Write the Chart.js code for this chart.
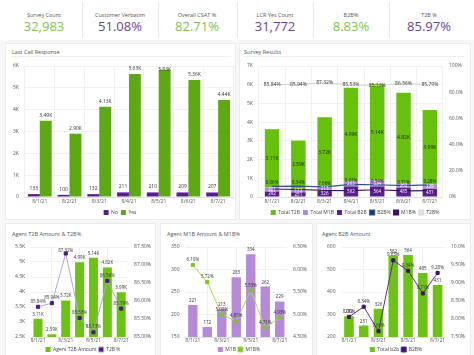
<!DOCTYPE html>
<html><head><meta charset="utf-8">
<script src="https://cdn.jsdelivr.net/npm/chart.js@4/dist/chart.umd.min.js"></script>
<style>
html,body{margin:0;padding:0;background:#fff;font-family:"Open Sans",sans-serif;}
#wrap{position:relative;width:474px;height:355px;overflow:hidden;background:#f7f7f7}
.kpi{position:absolute;top:0;height:40px;text-align:center;background:#fff}
.kpi .t{font-size:5.5px;color:#555;margin-top:12px;line-height:7px}
.kpi .v{font-size:13px;line-height:15px}
.div{position:absolute;top:2px;width:1px;height:36px;background:#e8e8e8}
.panel{position:absolute;background:#fff;border:1px solid #ebebeb;box-sizing:border-box}
.ttl{position:absolute;font-size:5.5px;color:#555;white-space:nowrap}
.hr{position:absolute;height:1px;background:#eeeeee}
canvas{position:absolute}
</style></head>
<body><div id="wrap">
<div class="kpi" style="left:0;width:474px"></div>
<div id="kpis"></div>
<div class="panel" style="left:5px;top:43px;width:231px;height:177px"></div>
<div class="ttl" style="left:12px;top:48px">Last Call Response</div>
<div class="hr" style="left:11px;top:56px;width:220px"></div>
<div class="panel" style="left:239px;top:43px;width:232px;height:177px"></div>
<div class="ttl" style="left:244px;top:48px">Survey Results</div>
<div class="hr" style="left:243px;top:56px;width:222px"></div>
<div class="panel" style="left:5px;top:223px;width:151px;height:134px"></div>
<div class="ttl" style="left:12px;top:230px">Agent T2B Amount &amp; T2B%</div>
<div class="panel" style="left:160px;top:223px;width:153px;height:134px"></div>
<div class="ttl" style="left:167px;top:230px">Agent M1B Amount &amp; M1B%</div>
<div class="panel" style="left:316px;top:223px;width:155px;height:134px"></div>
<div class="ttl" style="left:322px;top:230px">Agent B2B Amount</div>
<canvas id="c1" width="230" height="168" style="left:5px;top:57px"></canvas>
<canvas id="c2" width="232" height="168" style="left:239px;top:57px"></canvas>
<canvas id="c3" width="152" height="125" style="left:5px;top:237px"></canvas>
<canvas id="c4" width="152" height="125" style="left:161px;top:237px"></canvas>
<canvas id="c5" width="154" height="125" style="left:317px;top:237px"></canvas>
</div>
<script>
// ---------- data ----------
const categories = ['8/1/21','8/2/21','8/3/21','8/4/21','8/5/21','8/6/21','8/7/21'];
const kpiTitles = ['Survey Count','Customer Verbatim','Overall CSAT %','LCR Yes Count','B2B%','T2B %'];
const kpiValues = ['32,983','51.08%','82.71%','31,772','8.83%','85.97%'];
const lcrNo = [133,100,132,211,210,209,207];
const lcrYes = [3490,2900,4130,5630,5830,5360,4440];
const totalT2B = [3110,2590,3720,4990,5140,4820,3990];
const totalM1B = [221,172,213,283,334,262,229];
const totalB2B = [292,251,326,562,564,485,431];
const t2bPct = [85.84,85.94,87.32,85.53,85.13,86.56,85.79];
const m1bPct = [6.10,5.72,5.00,4.85,5.53,4.71,4.93];
const b2bPct = [8.06,8.34,7.66,9.63,9.34,8.71,9.28];
const lcrTicks = ['0','1K','2K','3K','4K','5K','6K'];
const surveyTicks = ['0','1K','2K','3K','4K','5K','6K','7K'];
const surveyPctTicks = ['0%','20.0%','40.0%','60.0%','80.0%','100%'];
const t2bTicks = ['2.5K','3K','3.5K','4K','4.5K','5K','5.5K'];
const t2bPctTicks = ['85.00%','85.50%','86.00%','86.50%','87.00%','87.50%'];
const m1bTicks = ['150','200','250','300','350'];
const m1bPctTicks = ['4.50%','5.00%','5.50%','6.00%','6.50%'];
const b2bTicks = ['200','300','400','500','600'];
const b2bPctTicks = ['7.50%','8.00%','8.50%','9.00%','9.50%','10.0%'];

// ---------- KPIs ----------
const kpiColors = ['#80c447','#6b3f94','#80c447','#6b3f94','#80c447','#6b3f94'];
const kpiCenters = [44,120,197,275,351,429];
const kc = document.getElementById('kpis');
kpiTitles.forEach((t,i)=>{
  const d=document.createElement('div'); d.className='kpi';
  d.style.left=(kpiCenters[i]-38)+'px'; d.style.width='76px'; d.style.background='transparent';
  d.innerHTML='<div class="t">'+t+'</div><div class="v" style="color:'+kpiColors[i]+'">'+kpiValues[i]+'</div>';
  kc.appendChild(d);
});
[82,158,237,313,389].forEach(x=>{const d=document.createElement('div');d.className='div';d.style.left=x+'px';kc.appendChild(d);});

// ---------- helpers ----------
const F = '"Open Sans", sans-serif';
const fmtK = v => (v/1000).toFixed(2)+'K';
const fmtN = v => String(v);
const fmtP = v => v.toFixed(2)+'%';
const labelPlugin = {
  id:'lbls',
  afterDatasetsDraw(chart){
    const ctx=chart.ctx, area=chart.chartArea;
    chart.data.datasets.forEach((ds,i)=>{
      const L=ds.lbl; if(!L) return;
      const meta=chart.getDatasetMeta(i);
      ctx.save();
      const size=L.size||5;
      ctx.font=size+'px '+F; ctx.textAlign='center';
      meta.data.forEach((el,j)=>{
        const t=L.fmt(ds.data[j]);
        let y;
        if(L.pos==='center'){ ctx.textBaseline='middle'; y=(el.y+el.base)/2; }
        else if(L.pos==='on'){ ctx.textBaseline='middle'; y=el.y; }
        else { ctx.textBaseline='bottom'; y=el.y-(L.off||3); if(y-size<area.top) y=area.top+size+1; }
        if(L.bg){ const w=ctx.measureText(t).width+3; ctx.fillStyle=L.bg; ctx.fillRect(el.x-w/2,y-size/2-1,w,size+2); }
        ctx.fillStyle=L.color||'#333';
        ctx.fillText(t,el.x,y+(L.dy||0));
      });
      ctx.restore();
    });
  }
};
function tickFont(){return {size:5,family:F};}
function legendOpts(order,pad){
  return {position:'bottom',labels:{boxWidth:5,boxHeight:5,font:{size:5,family:F},color:'#444',padding:pad,
    sort: order? (a,b)=>order.indexOf(a.datasetIndex)-order.indexOf(b.datasetIndex):undefined}};
}
const gridC='#f0f0f0';
function xAxis(stacked,pad){return {stacked:!!stacked,grid:{color:gridC,drawTicks:false},border:{color:'#e0e0e0'},ticks:{font:tickFont(),color:'#555',padding:pad,maxRotation:0}};}
function yAxis(min,max,step,labels,pos,stacked){
  return {position:pos||'left',stacked:!!stacked,min:min,max:max,
    grid:{display:pos!=='right',color:gridC,drawTicks:false},border:{display:false},
    ticks:{stepSize:step,font:tickFont(),color:'#555',padding:6,callback:(v,i)=>labels[i]}};
}

// ---------- chart 1: Last Call Response ----------
new Chart(document.getElementById('c1'),{
  type:'bar',
  data:{labels:categories,datasets:[
    {label:'No',data:lcrNo,backgroundColor:'#5a1e8c',categoryPercentage:0.8,barPercentage:1,lbl:{fmt:fmtN,color:'#333'}},
    {label:'Yes',data:lcrYes,backgroundColor:'#5da913',categoryPercentage:0.8,barPercentage:1,lbl:{fmt:fmtK,color:'#333'}}
  ]},
  options:{responsive:false,animation:false,devicePixelRatio:1,
    layout:{padding:{left:2,right:2,top:6,bottom:0}},
    plugins:{legend:legendOpts(null,3),tooltip:{enabled:false}},
    scales:{x:xAxis(false,2),y:yAxis(0,6000,1000,lcrTicks)}},
  plugins:[labelPlugin]
});

// ---------- chart 2: Survey Results ----------
new Chart(document.getElementById('c2'),{
  type:'bar',
  data:{labels:categories,datasets:[
    {label:'Total B2B',data:totalB2B,backgroundColor:'#5b1e8f',stack:'s',barPercentage:0.55,categoryPercentage:1,order:3,lbl:{fmt:fmtN,pos:'center',color:'#fff',size:4.5}},
    {label:'Total M1B',data:totalM1B,backgroundColor:'#b48ad8',stack:'s',barPercentage:0.55,categoryPercentage:1,order:3,lbl:{fmt:fmtN,pos:'center',color:'#fff',size:4.5}},
    {label:'Total T2B',data:totalT2B,backgroundColor:'#66c10c',stack:'s',barPercentage:0.55,categoryPercentage:1,order:3,lbl:{fmt:fmtK,pos:'center',color:'#222',size:5}},
    {type:'line',label:'B2B%',data:b2bPct,yAxisID:'y1',borderColor:'#2f5596',backgroundColor:'#1f3a6e',borderWidth:1.2,pointRadius:0,order:1,lbl:{fmt:fmtP,color:'#222',size:4.5,off:1}},
    {type:'line',label:'M1B%',data:m1bPct,yAxisID:'y1',borderColor:'#3b1660',backgroundColor:'#3b1660',borderWidth:1.2,pointRadius:0,order:1},
    {type:'line',label:'T2B%',data:t2bPct,yAxisID:'y1',borderColor:'#d6d6d6',backgroundColor:'#e4e4e4',borderWidth:1,pointRadius:0,order:2,lbl:{fmt:fmtP,color:'#333',size:5,pos:'on'}}
  ]},
  options:{responsive:false,animation:false,devicePixelRatio:1,
    layout:{padding:{left:2,right:2,top:6,bottom:0}},
    plugins:{legend:legendOpts([2,1,0,3,4,5],3),tooltip:{enabled:false}},
    scales:{x:xAxis(true,2),y:yAxis(0,7000,1000,surveyTicks,'left',true),y1:yAxis(0,100,20,surveyPctTicks,'right')}},
  plugins:[labelPlugin]
});

// ---------- bottom combo charts ----------
function combo(id,bars,barLabel,barColor,barFmt,line,lineLabel,lineColor,pointColor,lMin,lMax,lStep,lTicks,rMin,rMax,rStep,rTicks){
  new Chart(document.getElementById(id),{
    type:'bar',
    data:{labels:categories,datasets:[
      {type:'line',label:lineLabel,data:line,yAxisID:'y1',borderColor:lineColor,backgroundColor:pointColor,borderWidth:1,
        pointRadius:2.2,pointBackgroundColor:pointColor,pointBorderColor:pointColor,pointStyle:'rect',order:1,lbl:{fmt:fmtP,color:'#333',size:4.5,off:3}},
      {label:barLabel,data:bars,backgroundColor:barColor,barPercentage:0.65,categoryPercentage:1,order:2,lbl:{fmt:barFmt,color:'#333',size:4.5,off:2}}
    ]},
    options:{responsive:false,animation:false,devicePixelRatio:1,
      layout:{padding:{left:4,right:0,top:10,bottom:0}},
      plugins:{legend:legendOpts([1,0],2),tooltip:{enabled:false}},
      scales:{x:xAxis(false,1),y:yAxis(lMin,lMax,lStep,lTicks),y1:yAxis(rMin,rMax,rStep,rTicks,'right')}},
    plugins:[labelPlugin]
  });
}
combo('c3',totalT2B,'Agent T2B Amount','#6cc314',fmtK,t2bPct,'T2B %','#b7a3dc','#4a1a7c',2500,5500,500,t2bTicks,85,87.5,0.5,t2bPctTicks);
combo('c4',totalM1B,'M1B','#b58bd8',fmtN,m1bPct,'M1B%','#a4e04a','#7dc81e',150,350,50,m1bTicks,4.5,6.5,0.5,m1bPctTicks);
combo('c5',totalB2B,'Total b2b','#6cc314',fmtN,b2bPct,'B2B%','#5b2a91','#3f1470',200,600,100,b2bTicks,7.5,10,0.5,b2bPctTicks);
</script>
</body></html>
